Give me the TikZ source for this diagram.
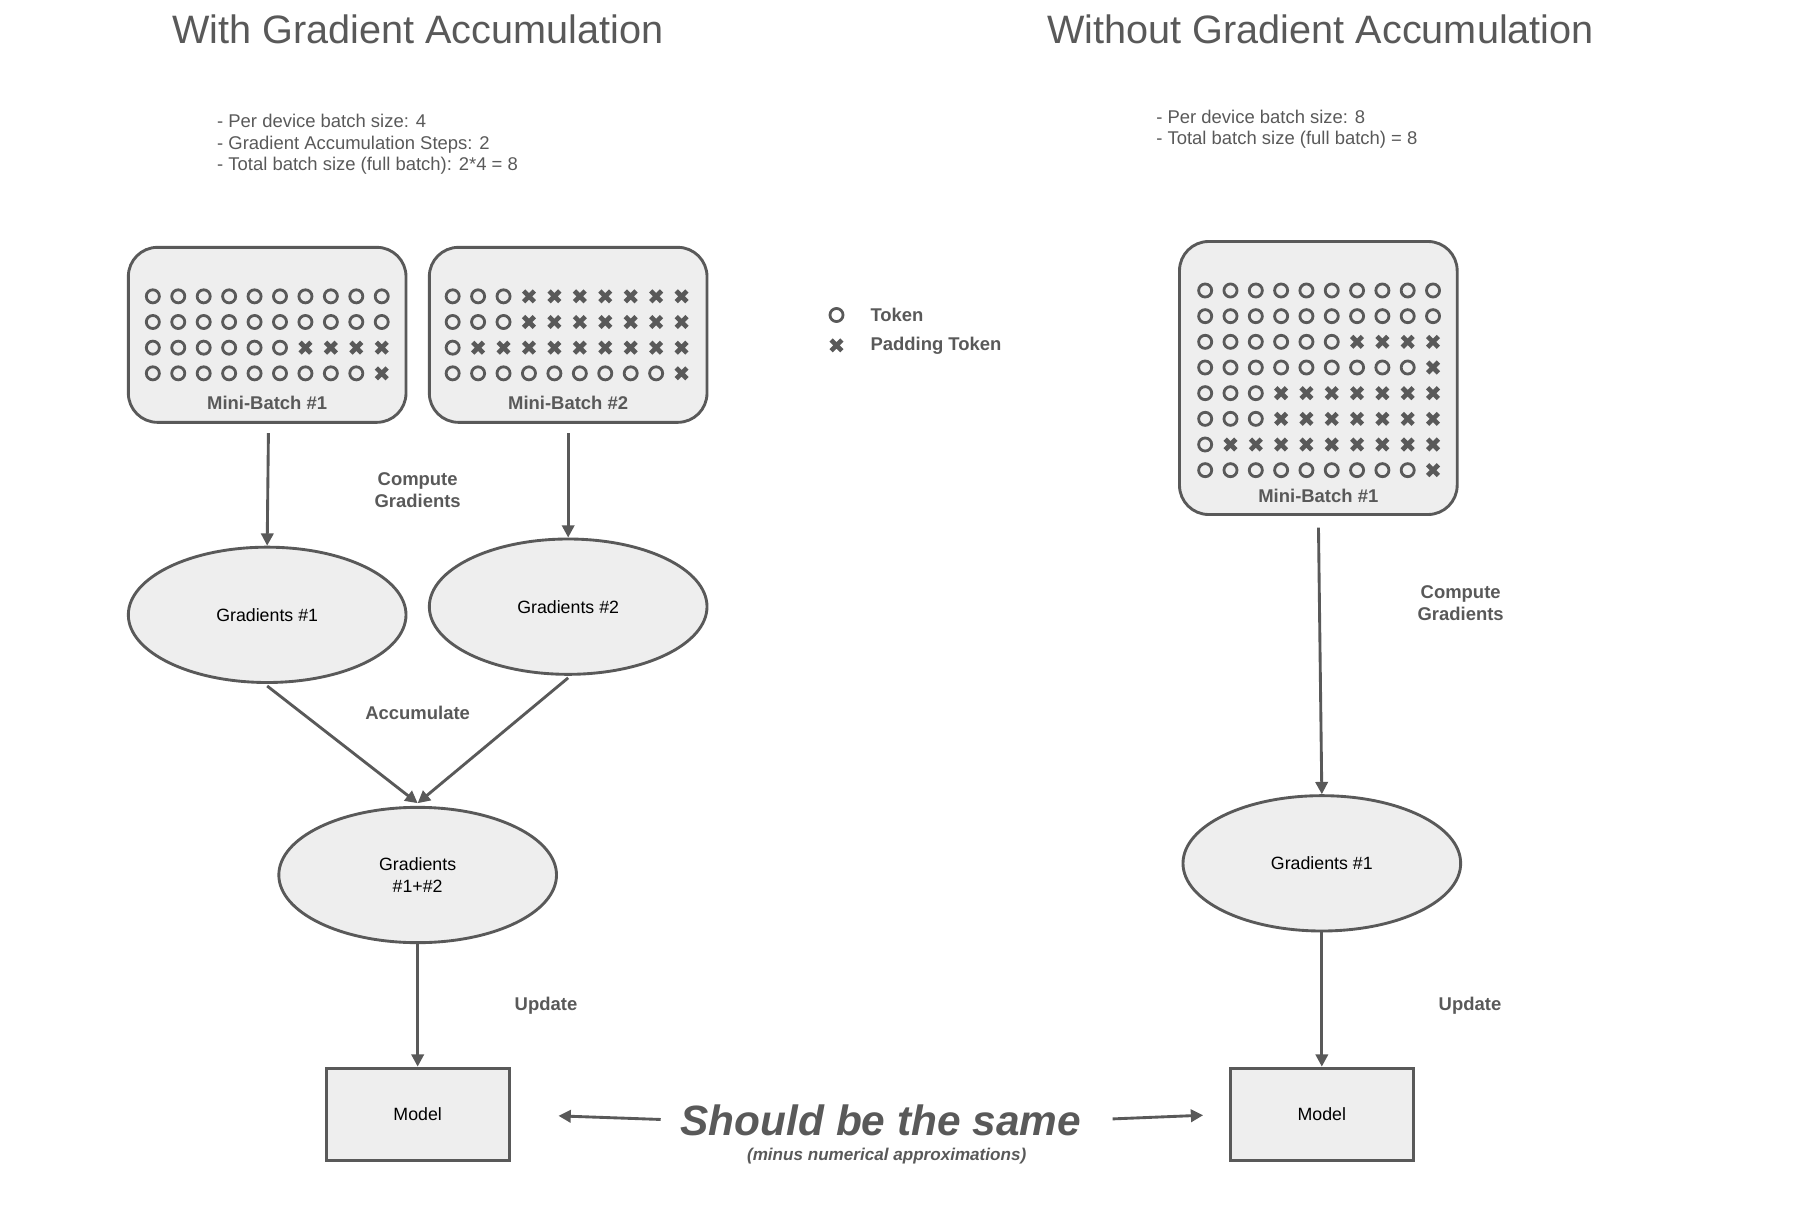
\documentclass[tikz,border=0pt]{standalone}
\usepackage{fontspec}
\setmainfont{Liberation Sans}
\usetikzlibrary{shapes.geometric,arrows.meta}
\definecolor{ink}{HTML}{595959}
\definecolor{fillg}{HTML}{EEEEEE}
\newcommand{\tokrow}[4]{% x0, y, dx, list
  \foreach \t [count=\i from 0] in {#4}{%
    \pgfmathsetmacro{\xx}{#1+\i*#3}%
    \if\t o\draw[ink,line width=2.4*0.03cm] (\xx,#2) circle[radius=5.6];\fi
    \if\t x\draw[ink,line width=4*0.03cm] (\xx-4.6,#2-4.6)--(\xx+4.6,#2+4.6) (\xx-4.6,#2+4.6)--(\xx+4.6,#2-4.6);\fi
  }}
\begin{document}
\begin{tikzpicture}[x=0.03cm,y=-0.03cm,
  every node/.style={text=ink},
  box/.style={draw=ink,fill=fillg,line width=2.1pt,rounded corners=0.75cm,minimum width=7.14cm},
  ell/.style={ellipse,draw=ink,fill=fillg,line width=2.1pt,minimum width=7.14cm,minimum height=3.48cm,font=\fontsize{13}{16}\selectfont,text=black,align=center},
  model/.style={draw=ink,fill=fillg,line width=2.1pt,minimum width=4.71cm,minimum height=2.37cm,font=\fontsize{13}{16}\selectfont,text=black},
  arr/.style={draw=ink,line width=2.1pt,-{Triangle[length=9pt,width=9pt]}},
  lbl/.style={font=\bfseries\fontsize{13.5}{16.5}\selectfont,align=center},
  note/.style={font=\fontsize{13.5}{16.5}\selectfont,align=left,anchor=north west},
  title/.style={font=\fontsize{29}{34}\selectfont}]
\useasboundingbox (0,0) rectangle (1560,1042);
\node[title] (t1) at (358,25) {With Gradient Accumulation};
\node[title] (t2) at (1132,25) {Without Gradient Accumulation};
\node[note] (n1) at (182,94) {- Per device batch size: 4\\[-1pt]- Gradient Accumulation Steps: 2\\[-1pt]- Total batch size (full batch): 2*4 = 8};
\node[note] (n2) at (987,90) {- Per device batch size: 8\\[-1pt]- Total batch size (full batch) = 8};
% boxes
\node[box,minimum height=4.5cm] (b1) at (229,287) {};
\node[box,minimum height=4.5cm] (b2) at (487,287) {};
\node[box,minimum height=7.02cm] (b3) at (1130,324) {};
\node[lbl] (l1) at (229,345) {Mini-Batch \#1};
\node[lbl] (l2) at (487,345) {Mini-Batch \#2};
\node[lbl] (l3) at (1130,425) {Mini-Batch \#1};
\tokrow{131}{254}{21.8}{o,o,o,o,o,o,o,o,o,o}
\tokrow{131}{276}{21.8}{o,o,o,o,o,o,o,o,o,o}
\tokrow{131}{298}{21.8}{o,o,o,o,o,o,x,x,x,x}
\tokrow{131}{320}{21.8}{o,o,o,o,o,o,o,o,o,x}
\tokrow{388}{254}{21.8}{o,o,o,x,x,x,x,x,x,x}
\tokrow{388}{276}{21.8}{o,o,o,x,x,x,x,x,x,x}
\tokrow{388}{298}{21.8}{o,x,x,x,x,x,x,x,x,x}
\tokrow{388}{320}{21.8}{o,o,o,o,o,o,o,o,o,x}
\tokrow{1033}{249}{21.7}{o,o,o,o,o,o,o,o,o,o}
\tokrow{1033}{271}{21.7}{o,o,o,o,o,o,o,o,o,o}
\tokrow{1033}{293}{21.7}{o,o,o,o,o,o,x,x,x,x}
\tokrow{1033}{315}{21.7}{o,o,o,o,o,o,o,o,o,x}
\tokrow{1033}{337}{21.7}{o,o,o,x,x,x,x,x,x,x}
\tokrow{1033}{359}{21.7}{o,o,o,x,x,x,x,x,x,x}
\tokrow{1033}{381}{21.7}{o,x,x,x,x,x,x,x,x,x}
\tokrow{1033}{403}{21.7}{o,o,o,o,o,o,o,o,o,x}
% legend
\tokrow{717}{270}{0}{o}
\tokrow{717}{296}{0}{x}
\node[lbl,anchor=west] (lt) at (742,270) {Token};
\node[lbl,anchor=west] (lp) at (742,296) {Padding Token};
% ellipses
\node[ell] (g1) at (229,527) {Gradients \#1};
\node[ell] (g2) at (487,520) {Gradients \#2};
\node[ell] (g12) at (358,750) {Gradients\\\#1+\#2};
\node[ell] (g3) at (1133,740) {Gradients \#1};
\node[model] (m1) at (358,955) {Model};
\node[model] (m2) at (1133,955) {Model};
% labels
\node[lbl] (c1) at (358,420) {Compute\\Gradients};
\node[lbl] (c2) at (1252,517) {Compute\\Gradients};
\node[lbl] (ac) at (358,611) {Accumulate};
\node[lbl] (u1) at (468,862) {Update};
\node[lbl] (u2) at (1260,862) {Update};
\node[font=\bfseries\itshape\fontsize{31}{36}\selectfont] (s) at (755,960) {Should be the same};
\node[font=\bfseries\itshape\fontsize{12.5}{15}\selectfont] (s2) at (760,991) {(minus numerical approximations)};
% arrows
\draw[arr,shorten <=0.24cm] ([xshift=1]b1.south) -- (g1.north);
\draw[arr,shorten <=0.24cm] (b2.south) -- (g2.north);
\draw[arr] ([yshift=-1.5]g1.south) -- ([yshift=2]g12.north);
\draw[arr] ([yshift=-1.5]g2.south) -- ([yshift=2]g12.north);
\draw[arr] (g12.south) -- (m1.north);
\draw[arr,shorten <=0.3cm] (b3.south) -- (g3.north);
\draw[arr] (g3.south) -- (m2.north);
\draw[arr,shorten <=0.39cm,shorten >=1.23cm] (s.west) -- (m1.east);
\draw[arr,shorten <=0.69cm,shorten >=0.66cm] (s.east) -- (m2.west);
\end{tikzpicture}
\end{document}
